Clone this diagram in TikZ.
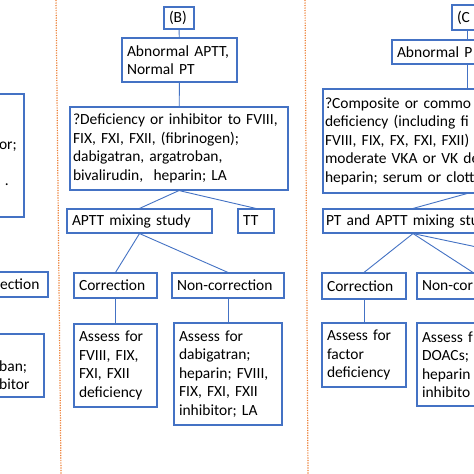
\documentclass[tikz,border=0pt]{standalone}
\usepackage{fontspec}
\setmainfont{Carlito}
\definecolor{boxblue}{HTML}{4472C4}
\definecolor{sepor}{HTML}{ED7D31}
\newcommand{\boxfont}{\fontsize{15.5pt}{18.5pt}\selectfont}

\begin{document}
\begin{tikzpicture}[x=1pt,y=-1pt,
    blk/.style={draw=boxblue, line width=1.1pt, font=\boxfont, align=left, inner xsep=5pt, inner ysep=0pt},
    frag/.style={font=\boxfont, align=left, inner sep=0pt},
    link/.style={draw=boxblue, line width=0.9pt},
    sep/.style={draw=sepor, line width=1.2pt, dash pattern=on 1.2pt off 1.3pt}]
           \useasboundingbox (0,0) rectangle (474,474);
           \clip (0,0) rectangle (474,474);
           \fill[white] (0,0) rectangle (474,474);
           \coordinate (sep_l1) at (56,0);
           \coordinate (sep_l2) at (61,474);
           \coordinate (sep_r1) at (305,0);
           \coordinate (sep_r2) at (308,474);
           \draw[sep] (sep_l1) -- (sep_l2);
           \draw[sep] (sep_r1) -- (sep_r2);
           % (A), cut by the left edge
           \node[blk, text width=134pt, minimum height=123pt] (a_def) at (-48,155.5) {};
           \node[frag, anchor=east] (a_or) at (17,147) {or;};
           \node[frag, anchor=east] (a_dot) at (9,185) {.};
           \node[blk, text width=78pt, minimum height=25pt] (a_corr) at (4,284.5) {};
           \node[frag, anchor=west] (a_corrtxt) at (0,284.5) {ection};
           \node[blk, text width=94pt, minimum height=63pt] (a_ass) at (-8,365.5) {};
           \node[frag, anchor=west] (a_asstxt) at (-1,375) {ban;\\bitor};
           % (B)
           \node[blk, text width=20pt, minimum height=22pt] (b_head) at (179,18) {(B)};
           \node[blk, text width=105pt, minimum height=44pt] (b_abn) at (179.5,60) {Abnormal APTT,\\Normal PT};
           \node[blk, text width=212pt, inner xsep=3pt, minimum height=83pt] (b_def) at (179,148.5) {?Deficiency or inhibitor to FVIII,\\FIX, FXI, FXII, (fibrinogen);\\dabigatran, argatroban,\\bivalirudin, \ heparin; LA};
           \node[blk, text width=135pt, minimum height=24pt] (b_mix) at (139.5,221) {APTT mixing study};
           \node[blk, text width=26pt, minimum height=24pt] (b_tt) at (256,221) {TT};
           \node[blk, text width=73pt, minimum height=25pt] (b_corr) at (115.5,285.5) {Correction};
           \node[blk, text width=102pt, minimum height=25pt] (b_non) at (228,285.5) {Non-correction};
           \node[blk, text width=73pt, minimum height=83pt] (b_ass1) at (115.5,365.5) {Assess for\\FVIII, FIX,\\FXI, FXII\\deficiency};
           \node[blk, text width=98pt, minimum height=102pt] (b_ass2) at (228,374) {Assess for\\dabigatran;\\heparin; FVIII,\\FIX, FXI, FXII\\inhibitor; LA};
           % (C), cut by the right edge
           \node[blk, text width=20pt, minimum height=25pt] (c_head) at (467,17.5) {(C};
           \node[blk, text width=140pt, minimum height=24pt] (c_abn) at (467,52) {Abnormal P};
           \node[blk, text width=284pt, inner xsep=2pt, minimum height=104pt] (c_def) at (467,141) {?Composite or commo\\deficiency (including fi\\FVIII, FIX, FX, FXI, FXII)\\moderate VKA or VK de\\heparin; serum or clott};
           \node[blk, text width=174pt, inner xsep=3pt, minimum height=24pt] (c_mix) at (413,221) {PT and APTT mixing stu};
           \node[blk, text width=74pt, minimum height=26pt] (c_corr) at (364,286) {Correction};
           \node[blk, text width=102pt, minimum height=26pt] (c_non) at (473,286) {Non-cor};
           \node[blk, text width=74pt, minimum height=64pt] (c_ass1) at (364,355) {Assess for\\factor\\deficiency};
           \node[blk, text width=98pt, minimum height=83pt] (c_ass2) at (471,364.5) {Assess f\\DOACs;\\heparin\\inhibito};
           \coordinate (c_next) at (600,273);
           \path[link]
            (b_head) edge (b_abn)
            (b_abn) edge (b_def)
            (b_def.south) edge (b_mix.north)
            (b_def.south) edge (b_tt.north)
            (b_mix.south) edge (b_corr.north)
            (b_mix.south) edge (b_non.north)
            (b_corr) edge (b_ass1)
            (b_non) edge (b_ass2)
            (c_head) edge (c_abn)
            (c_abn) edge (c_def)
            (c_def.south) edge (c_mix.north)
            (c_mix.south) edge (c_corr.north)
            (c_mix.south) edge (c_non.north)
            (c_mix.south) edge (c_next)
            (c_corr) edge (c_ass1);
        \end{tikzpicture}
\end{document}
